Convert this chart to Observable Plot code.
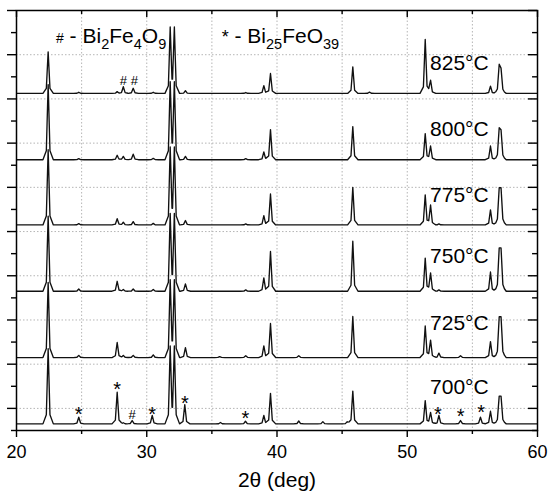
<!DOCTYPE html>
<html><head><meta charset="utf-8">
<script src="https://cdn.jsdelivr.net/npm/d3@7"></script>
<script src="https://cdn.jsdelivr.net/npm/@observablehq/plot@0.6"></script>
<style>body{margin:0;background:#fff} svg{font-family:"Liberation Sans",Arial,sans-serif}</style>
</head><body><div id="chart"></div>
<script>
// ---- data ----
const temps = ["700°C", "725°C", "750°C", "775°C", "800°C", "825°C"];
const offsets = [0.3, 3.3, 6.3, 9.3, 12.25, 15.25];          // vertical offset of each pattern (tick units)
const labelLift = [1.64, 1.57, 1.57, 1.33, 1.37, 1.37];     // temperature label height above its baseline

// [2θ, intensity] peaks for each pattern
const peaks700 = [[22.43,3.4],[24.78,0.3],[27.73,1.43],[28.2,0.05],[28.88,0.15],[30.42,0.38],[31.8,3.4],[32.12,3.4],[32.92,0.87],[35.66,0.06],[37.58,0.12],[38.99,0.38],[39.5,1.38],[41.67,0.13],[43.52,0.1],[45.39,0.1],[45.82,1.48],[51.38,1.05],[51.79,0.52],[52.43,0.38],[54.09,0.15],[55.62,0.3],[56.39,0.57],[57.06,1.12],[57.2,1.12]];
const peaks725 = [[22.43,3.4],[24.78,0.1],[27.73,0.68],[28.2,0.1],[28.96,0.1],[30.5,0.12],[31.8,3.4],[32.12,3.4],[32.97,0.45],[35.6,0.04],[37.6,0.08],[38.99,0.53],[39.5,1.54],[41.67,0.08],[45.82,1.86],[51.38,1.43],[51.79,0.79],[52.43,0.2],[54.09,0.08],[56.39,0.72],[57.06,1.65],[57.2,1.65]];
const peaks750 = [[22.43,3.4],[24.78,0.1],[27.73,0.45],[28.2,0.08],[28.96,0.1],[30.5,0.08],[31.8,3.4],[32.12,3.4],[32.97,0.33],[37.6,0.06],[38.99,0.6],[39.5,1.8],[45.82,2.26],[51.38,1.5],[51.79,0.83],[52.43,0.06],[56.39,0.87],[57.06,1.75],[57.2,1.75]];
const peaks775 = [[22.43,3.4],[24.78,0.06],[27.73,0.28],[28.2,0.12],[28.96,0.15],[30.5,0.07],[31.8,3.4],[32.12,3.4],[32.97,0.2],[37.6,0.05],[38.99,0.42],[39.5,1.4],[45.82,1.7],[51.38,1.36],[51.79,0.9],[52.43,0.05],[56.39,0.68],[57.06,1.5],[57.2,1.5]];
const peaks800 = [[22.43,3.4],[24.78,0.05],[27.73,0.2],[28.2,0.15],[28.96,0.25],[30.5,0.06],[31.8,3.4],[32.12,3.4],[32.97,0.15],[37.6,0.05],[38.99,0.35],[39.5,1.36],[45.82,1.5],[51.38,1.18],[51.79,0.62],[56.39,0.62],[57.06,1.3],[57.2,1.2]];
const peaks825 = [[22.43,1.88],[24.78,0.05],[27.73,0.08],[28.2,0.3],[28.96,0.23],[30.5,0.05],[31.8,2.9],[32.12,2.9],[32.97,0.12],[37.6,0.04],[38.99,0.35],[39.5,0.9],[45.82,1.2],[47.1,0.06],[51.38,2.44],[51.79,0.6],[56.39,0.33],[57.06,1.2],[57.2,1.0]];
const allPeaks = [peaks700, peaks725, peaks750, peaks775, peaks800, peaks825];

// phase markers
const starX = [24.78, 27.73, 30.42, 32.92, 37.58, 52.35, 54.09, 55.68];
const starY = [0.72, 1.86, 0.72, 1.21, 0.56, 0.72, 0.64, 0.79];
const hashX = [28.88, 28.2, 29.05];
const hashY = [0.71, 15.8, 15.8];

const xMajor = [20, 30, 40, 50, 60];
const xMinor = [25, 35, 45, 55];
const xGrid = [25, 30, 35, 40, 45, 50, 55];
const yMajor = [1, 3, 5, 7, 9, 11, 13, 15, 17, 19];
const yMinor = [0, 2, 4, 6, 8, 10, 12, 14, 16, 18];
const yGrid = [1, 3, 5, 7, 9, 11, 13, 15, 17];

// ---- build each pattern as a polyline through its peak profiles ----
const core = 0.14, foot = 0.4, skirt = 0.12;
function peakAt(p, h, x) {
  const d = Math.abs(x - p);
  if (d >= foot) return 0;
  if (d >= core) return skirt * h * (foot - d) / (foot - core);
  return h - (h - skirt * h) * d / core;
}
const points = [];
allPeaks.forEach((pk, i) => {
  const xs = new Set([20, 60]);
  pk.forEach(([p]) => [p - foot, p - core, p, p + core, p + foot].forEach(v => xs.add(+v.toFixed(4))));
  [...xs].sort((a, b) => a - b).forEach(x => {
    let y = offsets[i];
    pk.forEach(([p, h]) => { y += peakAt(p, h, x); });
    points.push({x, y, temp: temps[i]});
  });
});
const labels = temps.map((t, i) => ({t, y: offsets[i] + labelLift[i]}));
const stars = starX.map((x, i) => ({x, y: starY[i]}));
const hashes = hashX.map((x, i) => ({x, y: hashY[i]}));

// inward tick lengths on the top and right edges, in data units (~7/4 px and ~9/5 px)
const topMajorLen = 0.32, topMinorLen = 0.18, rightMajorLen = 0.69, rightMinorLen = 0.38;

const noText = () => "";
const svg = Plot.plot({
  width: 550, height: 501,
  marginLeft: 16, marginRight: 13, marginTop: 10, marginBottom: 71,
  x: {domain: [20, 60]},
  y: {domain: [0, 19]},
  style: {fontFamily: "Liberation Sans, Arial, sans-serif", fontSize: "18px", color: "black", background: "white", overflow: "visible"},
  marks: [
    Plot.gridX(xGrid, {stroke: "#b5b5b5", strokeOpacity: 1, strokeDasharray: "1.5,2"}),
    Plot.gridY(yGrid, {stroke: "#b5b5b5", strokeOpacity: 1, strokeDasharray: "1.5,2"}),
    Plot.line(points, {x: "x", y: "y", z: "temp", stroke: "#111", strokeWidth: 1.35, clip: true}),
    Plot.frame({stroke: "black", strokeWidth: 1.5}),
    Plot.axisX(xMajor, {anchor: "bottom", tickSize: 7, tickPadding: 8, strokeWidth: 1.4, label: null, fill: "black"}),
    Plot.axisX(xMinor, {anchor: "bottom", tickSize: 4, strokeWidth: 1.4, tickFormat: noText, label: null}),
    Plot.axisY(yMajor, {anchor: "left", tickSize: 9, strokeWidth: 1.4, tickFormat: noText, label: null}),
    Plot.axisY(yMinor, {anchor: "left", tickSize: 5, strokeWidth: 1.4, tickFormat: noText, label: null}),
    Plot.ruleX(xMajor, {y1: 19, y2: 19 - topMajorLen, stroke: "black", strokeWidth: 1.4}),
    Plot.ruleX(xMinor, {y1: 19, y2: 19 - topMinorLen, stroke: "black", strokeWidth: 1.4}),
    Plot.ruleY(yMajor, {x1: 60, x2: 60 - rightMajorLen, stroke: "black", strokeWidth: 1.4}),
    Plot.ruleY(yMinor, {x1: 60, x2: 60 - rightMinorLen, stroke: "black", strokeWidth: 1.4}),
    Plot.text(labels, {x: () => 51.75, y: "y", text: "t", textAnchor: "start", fontSize: 21, fill: "black"}),
    Plot.text(stars, {x: "x", y: "y", text: () => "*", fontSize: 20, fill: "black"}),
    Plot.text(hashes, {x: "x", y: "y", text: () => "#", fontSize: 13, fill: "black"}),
    Plot.text(["2θ (deg)"], {text: d => d, frameAnchor: "bottom", dy: 56, fontSize: 21, fill: "black"})
  ]
});

// legend with subscripts (real text, tspans)
const sx = svg.scale("x"), sy = svg.scale("y");
function legend(x0, y0, parts) {
  const t = d3.select(svg).append("text")
    .attr("x", sx.apply(x0)).attr("y", sy.apply(y0))
    .attr("text-anchor", "start")
    .attr("fill", "black").style("font-family", "Liberation Sans, Arial, sans-serif");
  let shifted = 0;
  parts.forEach(([s, size, sub]) => {
    const want = sub ? 6 : 0;
    t.append("tspan").attr("dy", want - shifted).style("font-size", size + "px").text(s);
    shifted = want;
  });
}
legend(23.07, 17.5, [["#", 14], [" - Bi", 21], ["2", 14.5, true], ["Fe", 21], ["4", 14.5, true], ["O", 21], ["9", 14.5, true]]);
legend(35.79, 17.5, [["*", 18], [" - Bi", 21], ["25", 14.5, true], ["FeO", 21], ["39", 14.5, true]]);

document.getElementById("chart").append(svg);
</script></body></html>
